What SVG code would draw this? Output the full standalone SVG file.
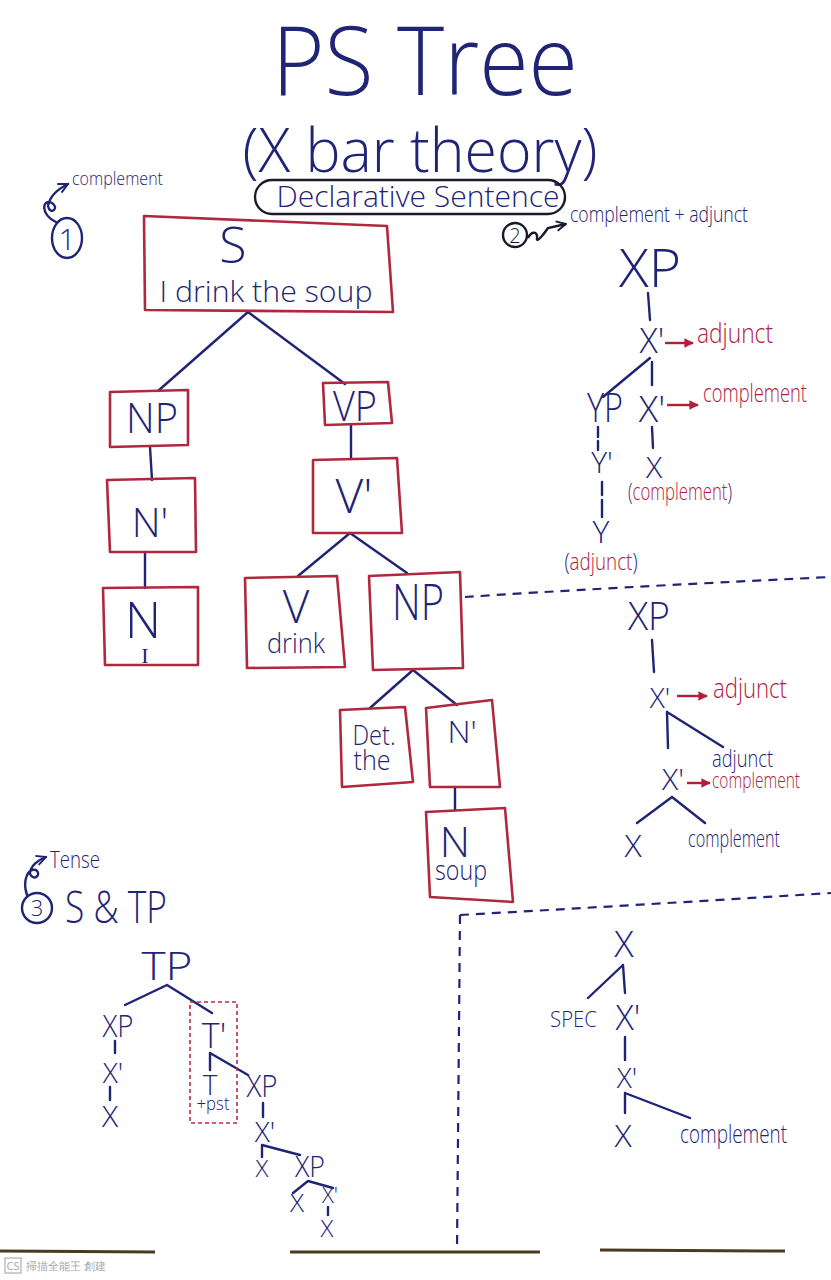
<svg xmlns="http://www.w3.org/2000/svg" width="831" height="1280" viewBox="0 0 831 1280">
<defs>
<marker id="ar" viewBox="0 0 10 10" refX="9" refY="5" markerWidth="4" markerHeight="4" orient="auto"><path d="M0 0 L10 5 L0 10 z" fill="#b0203a"/></marker>
<marker id="ab" viewBox="0 0 10 10" refX="9" refY="5" markerWidth="5" markerHeight="5" orient="auto"><path d="M1 1 L9 5 L1 9" fill="none" stroke="#1f2474" stroke-width="1.6"/></marker>
<marker id="ak" viewBox="0 0 10 10" refX="9" refY="5" markerWidth="5" markerHeight="5" orient="auto"><path d="M1 1 L9 5 L1 9" fill="none" stroke="#1a1a2a" stroke-width="1.6"/></marker>
</defs>
<style>
text{font-family:'Open Sans','Liberation Sans',Arial,sans-serif;font-weight:300;fill:#1f2474}
.m{text-anchor:middle}
.k{fill:#1a1a2a}
.r{fill:#b0203a}
.w{fill:#a8a8a8;font-weight:400}
.sf{font-family:'Liberation Serif',serif;font-weight:400}
.box{fill:none;stroke:#b0283e;stroke-width:2.6;stroke-linejoin:round}
.ln{fill:none;stroke:#1f2474;stroke-width:2.4;stroke-linecap:round}
.kl{fill:none;stroke:#1a1a2a;stroke-width:2.4}
.ra{fill:none;stroke:#b0203a;stroke-width:2.4;marker-end:url(#ar)}
.dash{fill:none;stroke:#1f2474;stroke-width:2.2;stroke-dasharray:9 7}
.rdash{fill:none;stroke:#c0283e;stroke-width:1.6;stroke-dasharray:4 3}
.edge{fill:none;stroke:#4a3a1e;stroke-width:3}
</style>
<rect width="831" height="1280" fill="#ffffff"/>

<g id="title">
<text x="425" y="95" class="m" font-size="95" textLength="306" lengthAdjust="spacingAndGlyphs">PS Tree</text>
<text x="420" y="172" class="m" font-size="60" textLength="355" lengthAdjust="spacingAndGlyphs">(X bar theory)</text>
</g>
<g id="declarative">
<rect x="255" y="180" width="310" height="34" rx="17" class="kl"/>
<text x="418" y="207" class="m" font-size="30" textLength="283" lengthAdjust="spacingAndGlyphs">Declarative Sentence</text>
</g>

<g id="label1">
<ellipse cx="67" cy="238" rx="15" ry="20" class="ln"/>
<text x="67" y="250" class="m" font-size="30">1</text>
<path d="M56 222 C40 215 42 198 52 203 C60 208 50 216 48 206 C50 194 60 188 68 184" class="ln" stroke-width="1.8" marker-end="url(#ab)"/>
<text x="72" y="185" font-size="19" textLength="91" lengthAdjust="spacingAndGlyphs">complement</text>
</g>

<g id="connectors">
<path d="M248 312 L158 391 M248 312 L345 384" class="ln"/>
<path d="M150 447 L152 480 M145 552 L145 588" class="ln"/>
<path d="M351 425 L351 459 M350 533 L298 576 M350 533 L407 573" class="ln"/>
<path d="M413 670 L370 708 M413 670 L457 705 M455 787 L455 810" class="ln"/>
<path d="M465 597 Q600 588 831 577" class="dash"/>
<path d="M648 293 L650 320 M650 358 L603 397 M652 362 L652 385" class="ln"/>
<path d="M598 427 L598 437 M598 441 L598 450 M602 482 L602 495 M602 500 L602 517 M652 427 L653 448" class="ln"/>
<path d="M652 640 L654 672 M667 712 L668 748 M667 712 L723 747 M672 797 L637 823 M672 797 L705 823" class="ln"/>
<path d="M460 915 Q640 905 831 893 M460 915 L457 1250" class="dash"/>
<path d="M623 965 L588 998 M623 965 L625 993 M625 1037 L625 1060 M625 1093 L625 1113 M625 1093 L690 1118" class="ln"/>
<path d="M167 985 L125 1005 M167 985 L212 1013 M115 1041 L115 1053 M110 1087 L110 1100" class="ln"/>
<path d="M210 1053 L210 1070 M210 1053 L248 1075 M263 1103 L263 1117 M262 1145 L262 1157 M262 1145 L300 1155" class="ln"/>
<path d="M308 1181 L293 1193 M308 1181 L333 1188 M328 1207 L328 1215" class="ln"/>
<path d="M665 343 L693 343" class="ra"/>
<path d="M667 405 L698 405" class="ra"/>
<path d="M677 696 L707 696" class="ra"/>
<path d="M687 783 L710 783" class="ra"/>
</g>

<g id="node-S">
<path d="M144 216 L387 226 L393 312 L145 310 Z" class="box"/>
<text x="233" y="263" class="m" font-size="50">S</text>
<text x="266" y="302" class="m" font-size="30" textLength="213" lengthAdjust="spacingAndGlyphs">I drink the soup</text>
</g>
<g id="node-NP1">
<path d="M110 392 L188 390 L188 445 L110 447 Z" class="box"/>
<text x="152" y="433" class="m" font-size="42" textLength="52" lengthAdjust="spacingAndGlyphs">NP</text>
</g>
<g id="node-Nbar1">
<path d="M107 480 L195 478 L196 552 L110 552 Z" class="box"/>
<text x="150" y="537" class="m" font-size="40">N'</text>
</g>
<g id="node-N1">
<path d="M103 588 L198 587 L198 665 L105 665 Z" class="box"/>
<text x="143" y="638" class="m" font-size="50">N</text>
<text x="145" y="663" class="m sf" font-size="22">I</text>
</g>
<g id="node-VP">
<path d="M323 383 L388 382 L392 423 L325 425 Z" class="box"/>
<text x="355" y="421" class="m" font-size="42" textLength="44" lengthAdjust="spacingAndGlyphs">VP</text>
</g>
<g id="node-Vbar">
<path d="M313 460 L397 458 L402 533 L313 533 Z" class="box"/>
<text x="354" y="513" class="m" font-size="48">V'</text>
</g>
<g id="node-V">
<path d="M245 578 L337 576 L345 667 L247 668 Z" class="box"/>
<text x="296" y="623" class="m" font-size="46">V</text>
<text x="296" y="653" class="m" font-size="28" textLength="58" lengthAdjust="spacingAndGlyphs">drink</text>
</g>
<g id="node-NP2">
<path d="M369 576 L460 572 L463 668 L373 670 Z" class="box"/>
<text x="418" y="620" class="m" font-size="50" textLength="52" lengthAdjust="spacingAndGlyphs">NP</text>
</g>
<g id="node-Det">
<path d="M340 710 L405 707 L413 782 L342 787 Z" class="box"/>
<text x="374" y="745" class="m" font-size="27" textLength="43" lengthAdjust="spacingAndGlyphs">Det.</text>
<text x="372" y="770" class="m" font-size="27" textLength="37" lengthAdjust="spacingAndGlyphs">the</text>
</g>
<g id="node-Nbar2">
<path d="M426 708 L492 700 L500 787 L430 787 Z" class="box"/>
<text x="462" y="743" class="m" font-size="32">N'</text>
</g>
<g id="node-N2">
<path d="M426 812 L505 808 L513 902 L430 897 Z" class="box"/>
<text x="455" y="857" class="m" font-size="42">N</text>
<text x="461" y="880" class="m" font-size="28" textLength="52" lengthAdjust="spacingAndGlyphs">soup</text>
</g>

<g id="label2">
<circle cx="515" cy="235" r="12" class="kl"/>
<text x="515" y="243" class="m k" font-size="20">2</text>
<path d="M528 238 C532 230 538 232 537 238 C536 244 544 234 548 228 L566 224" class="kl" stroke-width="1.8" marker-end="url(#ak)"/>
<text x="570" y="222" font-size="22" textLength="178" lengthAdjust="spacingAndGlyphs">complement + adjunct</text>
</g>
<g id="tree2a">
<text x="650" y="287" class="m" font-size="54" textLength="62" lengthAdjust="spacingAndGlyphs">XP</text>
<text x="652" y="353" class="m" font-size="34">X'</text>
<text x="697" y="343" class="r" font-size="28" textLength="76" lengthAdjust="spacingAndGlyphs">adjunct</text>
<text x="605" y="422" class="m" font-size="40" textLength="36" lengthAdjust="spacingAndGlyphs">YP</text>
<text x="652" y="422" class="m" font-size="36">X'</text>
<text x="703" y="402" class="r" font-size="26" textLength="104" lengthAdjust="spacingAndGlyphs">complement</text>
<text x="602" y="473" class="m" font-size="30">Y'</text>
<text x="601" y="543" class="m" font-size="32">Y</text>
<text x="601" y="570" class="m" font-size="24" textLength="73" lengthAdjust="spacingAndGlyphs">(<tspan class="r">adjunct</tspan>)</text>
<text x="654" y="478" class="m" font-size="30">X</text>
<text x="680" y="500" class="m" font-size="24" textLength="104" lengthAdjust="spacingAndGlyphs">(<tspan class="r">complement</tspan>)</text>
</g>
<g id="tree2b">
<text x="649" y="630" class="m" font-size="38" textLength="42" lengthAdjust="spacingAndGlyphs">XP</text>
<text x="660" y="708" class="m" font-size="28">X'</text>
<text x="713" y="698" class="r" font-size="28" textLength="74" lengthAdjust="spacingAndGlyphs">adjunct</text>
<text x="673" y="790" class="m" font-size="30">X'</text>
<text x="712" y="767" font-size="24" textLength="61" lengthAdjust="spacingAndGlyphs">adjunct</text>
<text x="712" y="788" class="r" font-size="22" textLength="88" lengthAdjust="spacingAndGlyphs">complement</text>
<text x="633" y="857" class="m" font-size="32">X</text>
<text x="688" y="847" font-size="24" textLength="92" lengthAdjust="spacingAndGlyphs">complement</text>
</g>
<g id="tree-spec">
<text x="624" y="957" class="m" font-size="36">X</text>
<text x="550" y="1027" font-size="22" textLength="47" lengthAdjust="spacingAndGlyphs">SPEC</text>
<text x="628" y="1030" class="m" font-size="34">X'</text>
<text x="627" y="1088" class="m" font-size="28">X'</text>
<text x="623" y="1147" class="m" font-size="32">X</text>
<text x="680" y="1143" font-size="26" textLength="107" lengthAdjust="spacingAndGlyphs">complement</text>
</g>

<g id="label3">
<circle cx="37" cy="908" r="15" class="ln"/>
<text x="37" y="916" class="m" font-size="22">3</text>
<path d="M27 895 C22 880 28 868 36 870 C42 874 34 882 30 874 C30 866 38 860 46 857" class="ln" stroke-width="1.8" marker-end="url(#ab)"/>
<text x="50" y="868" font-size="24" textLength="50" lengthAdjust="spacingAndGlyphs">Tense</text>
<text x="65" y="923" font-size="44" textLength="102" lengthAdjust="spacingAndGlyphs">S &amp; TP</text>
</g>
<g id="tree3">
<text x="167" y="980" class="m" font-size="38" textLength="51" lengthAdjust="spacingAndGlyphs">TP</text>
<text x="118" y="1037" class="m" font-size="32" textLength="31" lengthAdjust="spacingAndGlyphs">XP</text>
<text x="113" y="1083" class="m" font-size="28">X'</text>
<text x="110" y="1127" class="m" font-size="30">X</text>
<rect x="190" y="1002" width="47" height="121" class="rdash"/>
<text x="214" y="1048" class="m" font-size="34">T'</text>
<text x="210" y="1095" class="m" font-size="28">T</text>
<text x="213" y="1110" class="m" font-size="18" textLength="33" lengthAdjust="spacingAndGlyphs">+pst</text>
<text x="262" y="1097" class="m" font-size="32" textLength="31" lengthAdjust="spacingAndGlyphs">XP</text>
<text x="265" y="1142" class="m" font-size="28">X'</text>
<text x="262" y="1177" class="m" font-size="24">X</text>
<text x="310" y="1177" class="m" font-size="30" textLength="30" lengthAdjust="spacingAndGlyphs">XP</text>
<text x="297" y="1212" class="m" font-size="26">X</text>
<text x="330" y="1203" class="m" font-size="22">X'</text>
<text x="327" y="1237" class="m" font-size="24">X</text>
</g>

<g id="paper-edge">
<path d="M0 1251 L155 1252 M290 1252 L470 1252 M600 1250 L785 1251" class="edge"/>
<path d="M470 1252 L540 1252" class="edge" stroke-width="1.5"/>
</g>
<g id="watermark">
<rect x="5" y="1258" width="16" height="15" fill="none" stroke="#b0b0b0" stroke-width="1.2"/>
<text x="13" y="1270" class="m w" font-size="11">CS</text>
<text x="26" y="1270" class="w" font-size="11" font-family="'Liberation Sans','Noto Sans CJK TC',sans-serif">掃描全能王 創建</text>
</g>
</svg>
